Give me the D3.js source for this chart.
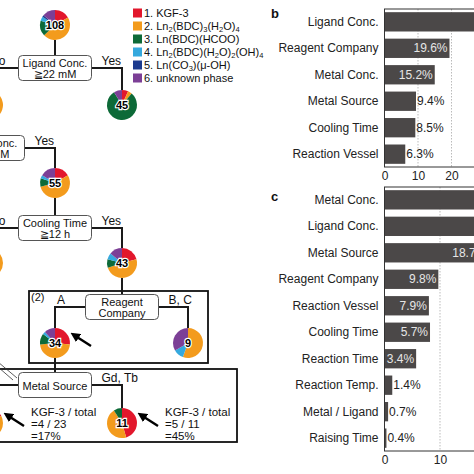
<!DOCTYPE html>
<html>
<head>
<meta charset="utf-8">
<script src="https://cdn.jsdelivr.net/npm/d3@7"></script>
<style>
  body { margin: 0; background: #fff; }
  svg { display: block; font-family: "Liberation Sans", Arial, sans-serif; }
</style>
</head>
<body>
<svg id="fig" width="474" height="474"></svg>
<script>
// ---------- data ----------
// "_x" marks a subscript character
const phaseNames = ["1. KGF-3", "2. Ln_2(BDC)_3(H_2O)_4", "3. Ln(BDC)(HCOO)",
                    "4. Ln_2(BDC)(H_2O)_2(OH)_4", "5. Ln(CO_3)(μ-OH)", "6. unknown phase"];
const phaseColors = ["#e2172c", "#f39b1d", "#0d6a38", "#35a9de", "#1b3a8e", "#7c3f96"];

// phase counts of every tree node (order of phaseNames)
const nodeCounts = [
  [18, 50, 18, 5, 2, 15],   // all samples
  [9, 40, 4, 3, 1, 6],      // ligand conc. no
  [3, 2, 36, 0, 0, 4],      // ligand conc. yes
  [9, 30, 5, 2, 0, 9],      // metal conc. yes
  [0, 9, 1, 0, 0, 2],       // cooling time no
  [9, 21, 4, 3, 0, 6],      // cooling time yes
  [9, 16, 4, 1, 0, 4],      // company A
  [0, 5, 0, 1, 0, 3],       // company B, C
  [4, 14, 3, 0, 0, 2],      // other metal sources
  [5, 5, 1, 0, 0, 0]        // Gd, Tb
];

const splitText = [["Ligand Conc.", "≧22 mM"], ["Metal Conc.", "≧10 mM"],
                   ["Cooling Time", "≧12 h"], ["Reagent", "Company"], ["Metal Source"]];
const branchText = [["No", "Yes"], ["No", "Yes"], ["No", "Yes"], ["A", "B, C"], ["", "Gd, Tb"]];
const splitParent = [0, 1, 3, 5, 6];
const splitChildren = [[1, 2], [null, 3], [4, 5], [6, 7], [8, 9]];
const annotated = [8, 9];   // nodes with KGF-3 / total notes

const bCats = ["Ligand Conc.", "Reagent Company", "Metal Conc.", "Metal Source", "Cooling Time", "Reaction Vessel"];
const bVals = [41, 19.4, 15.0, 9.4, 9.2, 6.2];
const bLabels = ["41.0%", "19.6%", "15.2%", "9.4%", "8.5%", "6.3%"];
const bTicks = [0, 10, 20];

const cCats = ["Metal Conc.", "Ligand Conc.", "Metal Source", "Reagent Company", "Reaction Vessel",
               "Cooling Time", "Reaction Time", "Reaction Temp.", "Metal / Ligand", "Raising Time"];
const cVals = [27.5, 24.5, 18.7, 9.7, 8.0, 8.2, 5.7, 1.4, 0.65, 0.35];
const cLabels = ["27.5%", "24.5%", "18.7%", "9.8%", "7.9%", "5.7%", "3.4%", "1.4%", "0.7%", "0.4%"];
const cTicks = [0, 10];

// ---------- layout ----------
const colX = [-12, 55, 122, 188];
const rowY = [25, 105, 183, 263, 343, 423];
const nodeSlot = [[1,0],[0,1],[2,1],[1,2],[0,3],[2,3],[1,4],[3,4],[0,5],[2,5]];
const boxY = [68, 148, 228, 307, 385];
const R = 15, boxW = 73, boxH = 25;

const svg = d3.select("#fig");
const nx = i => colX[nodeSlot[i][0]];
const ny = i => rowY[nodeSlot[i][1]];

// group frames (2) and (3)
const frames = svg.append("g").attr("fill", "none").attr("stroke", "#111").attr("stroke-width", 1.8);
frames.append("rect").attr("x", 29).attr("y", 291).attr("width", 179).attr("height", 72);
frames.append("rect").attr("x", -60).attr("y", 369).attr("width", 297).attr("height", 73);
svg.append("text").attr("x", 31).attr("y", 301).attr("font-size", 11).attr("fill", "#111").text("(2)");

// callout piece on the left edge
svg.append("path").attr("d", "M-2,362 L17,378 M-2,367 L13,380")
  .attr("stroke", "#333").attr("stroke-width", 0.8).attr("fill", "none");

// tree connectors
const links = svg.append("g").attr("stroke", "#1a1a1a").attr("stroke-width", 2).attr("fill", "none");
splitText.forEach((t, s) => {
  const px = nx(splitParent[s]), by = boxY[s];
  links.append("line").attr("x1", px).attr("x2", px)
    .attr("y1", ny(splitParent[s]) + R).attr("y2", by - boxH / 2);
  splitChildren[s].forEach((c, k) => {
    if (c === null) return;
    const cx = nx(c), ex = px + (k === 0 ? -boxW / 2 : boxW / 2);
    links.append("path").attr("d", `M${ex},${by} H${cx} V${ny(c) - R}`);
    const lbl = branchText[s][k];
    svg.append("text")
      .attr("x", k === 0 ? cx + 2 : ex + 10)
      .attr("y", by - 3)
      .attr("font-size", 12).attr("fill", "#111")
      .text(lbl);
  });
});

// split boxes
splitText.forEach((t, s) => {
  const px = nx(splitParent[s]), by = boxY[s];
  svg.append("rect").attr("x", px - boxW / 2).attr("y", by - boxH / 2)
    .attr("width", boxW).attr("height", boxH).attr("rx", 4)
    .attr("fill", "#fff").attr("stroke", "#555").attr("stroke-width", 1);
  t.forEach((line, j) => {
    svg.append("text").attr("x", px)
      .attr("y", t.length === 1 ? by + 4.5 : by - 1.5 + j * 11.5)
      .attr("text-anchor", "middle").attr("font-size", 11).attr("fill", "#111")
      .text(line);
  });
});

// pies
const pie = d3.pie().sort(null);
const arc = d3.arc().innerRadius(0).outerRadius(R);
nodeCounts.forEach((counts, i) => {
  const g = svg.append("g").attr("transform", `translate(${nx(i)},${ny(i)})`);
  g.selectAll("path").data(pie(counts)).join("path")
    .attr("d", arc).attr("fill", (d, k) => phaseColors[k]);
  g.append("text").attr("y", 4).attr("text-anchor", "middle")
    .attr("font-size", 11).attr("font-weight", "bold")
    .attr("fill", "#000").attr("stroke", "#fff").attr("stroke-width", 2.4)
    .attr("paint-order", "stroke")
    .text(d3.sum(counts));
});

// arrows + KGF-3 notes
svg.append("defs").append("marker").attr("id", "head")
  .attr("viewBox", "0 0 10 10").attr("refX", 2).attr("refY", 5)
  .attr("markerWidth", 4).attr("markerHeight", 4).attr("orient", "auto")
  .append("path").attr("d", "M0,0 L10,5 L0,10 Z").attr("fill", "#000");
const arrowAt = [6, 8, 9];
arrowAt.forEach(i => {
  svg.append("line")
    .attr("x1", nx(i) + 36).attr("y1", ny(i) + 3)
    .attr("x2", nx(i) + 22).attr("y2", ny(i) - 6)
    .attr("stroke", "#000").attr("stroke-width", 2.4)
    .attr("marker-end", "url(#head)");
});
annotated.forEach(i => {
  const red = nodeCounts[i][0], tot = d3.sum(nodeCounts[i]);
  const lines = ["KGF-3 / total", `=${red} / ${tot}`, `=${Math.round(100 * red / tot)}%`];
  svg.append("text").attr("font-size", 11.5).attr("fill", "#111")
    .selectAll("tspan").data(lines).join("tspan")
    .attr("x", nx(i) + 43).attr("y", (d, k) => ny(i) - 7 + k * 12)
    .text(d => d);
});

// legend
const leg = svg.append("g");
phaseNames.forEach((name, i) => {
  const y = 13 + i * 13;
  leg.append("rect").attr("x", 133).attr("y", y - 4.5).attr("width", 9).attr("height", 9)
    .attr("fill", phaseColors[i]);
  const t = leg.append("text").attr("x", 144).attr("y", y + 4).attr("font-size", 11).attr("fill", "#111");
  name.split(/(_.)/).filter(p => p.length).forEach(p => {
    if (p[0] === "_") {
      t.append("tspan").attr("font-size", 7.5).attr("baseline-shift", "-2").text(p[1]);
    } else {
      t.append("tspan").text(p);
    }
  });
});

// ---------- bar panels ----------
function barPanel(cats, vals, labels, ticks, x, top, bottom, insideMin, letter, letterY) {
  const y = d3.scaleBand().domain(cats).range([top, bottom]).paddingInner(0.27).paddingOuter(0.12);
  const g = svg.append("g");
  g.selectAll(".grid").data(ticks.filter(t => t > 0)).join("line")
    .attr("x1", d => x(d)).attr("x2", d => x(d)).attr("y1", top).attr("y2", bottom)
    .attr("stroke", "#aaa").attr("stroke-width", 0.8).attr("stroke-dasharray", "1.5,1.5");
  g.selectAll(".bar").data(vals).join("rect")
    .attr("x", x(0)).attr("y", (d, i) => y(cats[i]))
    .attr("width", d => x(d) - x(0)).attr("height", y.bandwidth())
    .attr("fill", "#4b4848");
  g.selectAll(".val").data(vals).join("text")
    .attr("x", d => d >= insideMin ? x(d) - 2 : x(d) + 1)
    .attr("y", (d, i) => y(cats[i]) + y.bandwidth() / 2 + 4)
    .attr("text-anchor", d => d >= insideMin ? "end" : "start")
    .attr("font-size", 12)
    .attr("fill", d => d >= insideMin ? "#e6e6e6" : "#222")
    .text((d, i) => labels[i]);
  g.append("rect").attr("x", x(0)).attr("y", top).attr("width", 300).attr("height", bottom - top)
    .attr("fill", "none").attr("stroke", "#333").attr("stroke-width", 1);
  const ax = g.append("g").attr("transform", `translate(0,${bottom})`)
    .call(d3.axisBottom(x).tickValues(ticks).tickSize(0).tickPadding(4).tickFormat(d3.format("d")));
  ax.select(".domain").remove();
  ax.selectAll("text").attr("font-size", 12).attr("fill", "#222").attr("font-family", "inherit");
  const ay = g.append("g").attr("transform", `translate(${x(0)},0)`)
    .call(d3.axisLeft(y).tickSize(0).tickPadding(6));
  ay.select(".domain").remove();
  ay.selectAll("text").attr("font-size", 12).attr("fill", "#222").attr("font-family", "inherit");
  svg.append("text").attr("x", 271).attr("y", letterY).attr("font-size", 13)
    .attr("font-weight", "bold").attr("fill", "#111").text(letter);
}

const xB = d3.scaleLinear().domain([0, 30]).range([384.5, 485]);
const xC = d3.scaleLinear().domain([0, 20]).range([384.5, 495.5]);
barPanel(bCats, bVals, bLabels, bTicks, xB, 9, 167, 12, "b", 18);
barPanel(cCats, cVals, cLabels, cTicks, xC, 187, 451, 3, "c", 201);
</script>
</body>
</html>
